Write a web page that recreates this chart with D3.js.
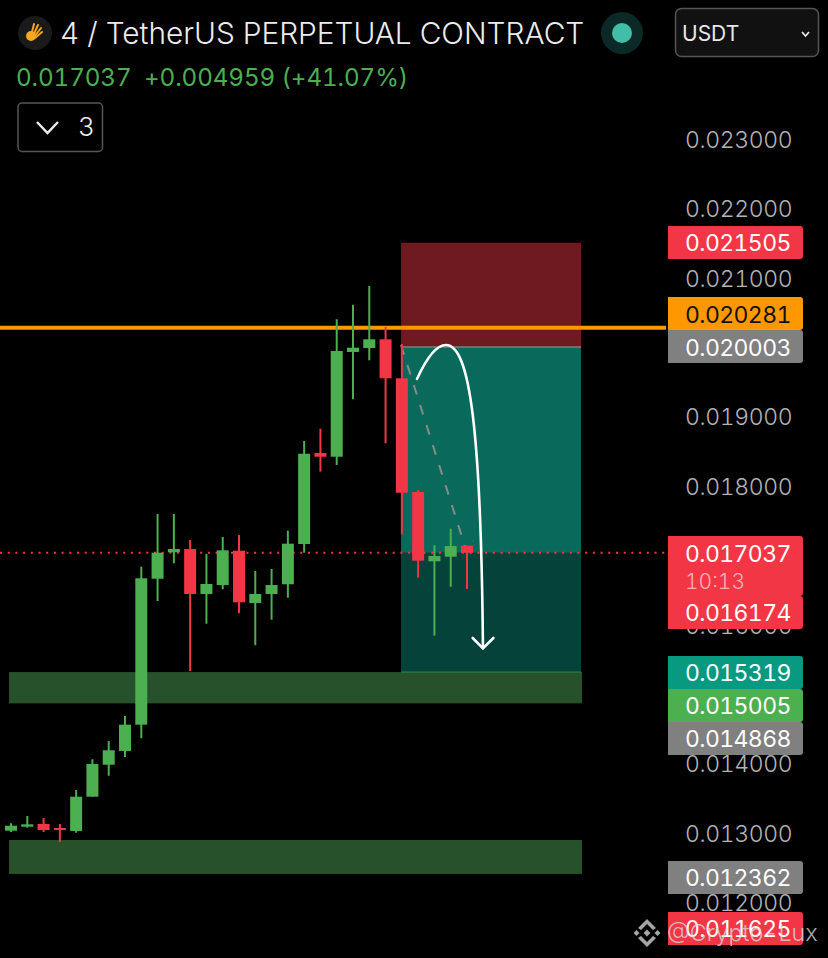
<!DOCTYPE html>
<html><head><meta charset="utf-8">
<style>html,body{margin:0;padding:0;background:#000}svg{display:block}text{font-family:Inter,Roboto,"Noto Sans",sans-serif;font-variant-numeric:tabular-nums;font-feature-settings:"tnum" 1}</style>
<script src="https://cdn.jsdelivr.net/npm/d3@7"></script></head><body><svg id="c" width="828" height="958"></svg>
<script>
const titleText="4 / TetherUS PERPETUAL CONTRACT";
const lastText="0.017037", changeText="+0.004959 (+41.07%)";
const axisTicks=[0.023,0.022,0.021,0.019,0.018,0.016,0.014,0.013,0.012];
const opens =[13.033,13.091,13.130,13.072,13.029,13.523,13.984,14.182,14.561,16.664,17.045,17.092,16.444,16.573,17.068,16.314,16.444,16.584,17.164,18.476,18.422,19.931,19.988,20.114,19.552,17.914,16.915,16.981,17.140];
const highs =[13.140,13.245,13.216,13.130,13.620,14.062,14.326,14.686,16.837,17.597,17.597,17.222,17.020,17.265,17.294,16.775,16.804,17.356,18.648,18.826,20.402,20.612,20.882,20.291,20.046,17.942,17.146,17.385,17.140];
const lows  =[13.014,13.076,13.014,12.870,13.004,13.523,13.826,14.095,14.365,16.343,16.886,15.334,16.016,16.512,16.166,15.705,16.073,16.390,17.039,18.206,18.303,19.249,19.811,18.615,17.304,16.679,15.843,16.549,16.516];
const closes=[13.105,13.125,13.043,13.043,13.523,13.994,14.192,14.561,16.670,17.039,17.092,16.444,16.588,17.073,16.324,16.444,16.573,17.169,18.465,18.422,19.945,19.993,20.114,19.552,17.903,16.924,16.991,17.135,17.037];
const zoneTops=[15.319,12.899], zoneBottoms=[14.868,12.410], zoneStart=-0.12, zoneEnd=35.06;
const toolStart=23.95, toolEnd=35.0, stopPrice=21.505, entryPrice=20.003, lastPrice=17.037, targetPrice=15.319;
const resistance=20.281;
const badgeValues=[21.505,20.281,20.003,17.037,16.174,15.319,15.005,14.868,12.362,11.625];
const badgeColors=["#f23645","#ff9800","#808080","#f23645","#f23645","#089981","#4caf50","#808080","#808080","#f23645"];
const arrowIdx  =[24.93,25.6,26.22,26.71,28.18,28.86,28.98];
const arrowPrice=[19.542,19.888,20.032,20.032,20.032,18.807,15.661];
const headIdx=[28.35,28.98,29.62], headPrice=[15.810,15.661,15.810];
const dashIdx=[23.95,28.0,28.37], dashPrice=[20.032,17.037,17.207];

const W=828,H=958,GREEN="#4caf50",RED="#f23645";
const svg=d3.select("#c");
const x=d3.scaleLinear().domain([0,28]).range([11,467]);
const y=d3.scaleLinear().domain([23,13]).range([139,833]);

svg.append("rect").attr("width",W).attr("height",H).attr("fill","#000");

// zones
const g=svg.append("g");
zoneTops.forEach((t,i)=>g.append("rect").attr("x",x(zoneStart)).attr("width",x(zoneEnd)-x(zoneStart))
  .attr("y",y(t)).attr("height",y(zoneBottoms[i])-y(t)).attr("fill","#27512a"));
// position tool
const tool=(a,b,c)=>g.append("rect").attr("x",x(toolStart)).attr("width",x(toolEnd)-x(toolStart)).attr("y",y(a)).attr("height",y(b)-y(a)).attr("fill",c);
tool(stopPrice,entryPrice,"#6e1a20");
tool(entryPrice,lastPrice,"#09695a");
tool(lastPrice,targetPrice,"#04423a");
g.append("line").attr("x1",x(toolStart)).attr("x2",x(toolEnd)).attr("y1",y(entryPrice)).attr("y2",y(entryPrice)).attr("stroke","#808080").attr("stroke-width",1.5);
g.append("line").attr("x1",x(toolStart)).attr("x2",x(toolEnd)).attr("y1",y(targetPrice)).attr("y2",y(targetPrice)).attr("stroke","#2f8f4a").attr("stroke-width",1);

// resistance & last price lines
svg.append("line").attr("x1",0).attr("x2",666).attr("y1",y(resistance)).attr("y2",y(resistance)).attr("stroke","#ff9800").attr("stroke-width",4);
svg.append("line").attr("x1",0).attr("x2",666).attr("y1",y(lastPrice)).attr("y2",y(lastPrice)).attr("stroke",RED).attr("stroke-width",2).attr("stroke-dasharray","2 5.7");

// projected dashed path
svg.append("path").attr("d",d3.line().x(i=>x(dashIdx[i])).y(i=>y(dashPrice[i]))(d3.range(dashIdx.length)))
  .attr("fill","none").attr("stroke","#8a8a8a").attr("stroke-width",2).attr("stroke-dasharray","10 11");

// candles
const idx=d3.range(opens.length);
const col=i=>closes[i]>=opens[i]?GREEN:RED;
const cg=svg.append("g");
cg.selectAll(".w").data(idx).join("line").attr("x1",x).attr("x2",x).attr("y1",i=>y(highs[i])).attr("y2",i=>y(lows[i])).attr("stroke",col).attr("stroke-width",2);
cg.selectAll(".b").data(idx).join("rect").attr("x",i=>x(i)-6).attr("width",12)
  .attr("y",i=>y(Math.max(opens[i],closes[i]))).attr("height",i=>Math.max(2,Math.abs(y(opens[i])-y(closes[i])))).attr("fill",col);

// arrow
const p=i=>[x(arrowIdx[i]),y(arrowPrice[i])];
svg.append("path").attr("d",`M${p(0)}C${p(1)} ${p(2)} ${p(3)}C${p(4)} ${p(5)} ${p(6)}`).attr("fill","none").attr("stroke","#fff").attr("stroke-width",2.6).attr("stroke-linecap","round");
svg.append("path").attr("d",d3.line().x(i=>x(headIdx[i])).y(i=>y(headPrice[i]))([0,1,2])).attr("fill","none").attr("stroke","#fff").attr("stroke-width",2.6).attr("stroke-linecap","round").attr("stroke-linejoin","round");

// axis labels
const FS=23;
svg.append("g").selectAll("text").data(axisTicks).join("text").attr("x",685).attr("y",d=>y(d*1000)).attr("dy","0.38em")
  .attr("font-size",FS).attr("font-weight",300).attr("fill","#b4b4b4").attr("letter-spacing",-0.4).text(d=>d.toFixed(6));

// price badges with collision handling around the entry badge
const BH=33, anchor=badgeValues.indexOf(entryPrice);
const cy=badgeValues.map(v=>y(v));
for(let i=anchor-1;i>=0;i--) if(cy[i]>cy[i+1]-BH) cy[i]=cy[i+1]-BH;
for(let i=anchor+1;i<cy.length;i++) if(cy[i]<cy[i-1]+BH) cy[i]=cy[i-1]+BH;
const lastI=badgeValues.indexOf(lastPrice);
badgeValues.forEach((v,i)=>{
  const c=cy[i], top=Math.round(c-BH/2), h=i===lastI?Math.round(cy[i+1]-BH/2)-top:Math.ceil(BH);
  svg.append("path").attr("d",`M668,${top}H800a3,3 0 0 1 3,3V${top+h-3}a3,3 0 0 1 -3,3H668Z`).attr("fill",badgeColors[i]);
  svg.append("text").attr("x",685).attr("y",c).attr("dy","0.38em").attr("font-size",FS).attr("font-weight",400).attr("letter-spacing",-0.6)
    .attr("fill",badgeColors[i]==="#ff9800"?"#111":"#fff").text((v/1000).toFixed(6));
  if(i===lastI) svg.append("text").attr("x",685).attr("y",c+28).attr("dy","0.38em").attr("font-size",21).attr("font-weight",300).attr("fill","#fff").attr("fill-opacity",0.62).text("10:13");
});

// header
svg.append("circle").attr("cx",35).attr("cy",33).attr("r",17).attr("fill","#1a1a1a");
const hand=svg.append("g").attr("stroke","#f5a623").attr("stroke-width",2).attr("stroke-linecap","round");
[[31,36,34,24],[33,36,38,25],[34,37,41,28],[35,38,42,32]].forEach(a=>hand.append("line").attr("x1",a[0]).attr("y1",a[1]).attr("x2",a[2]).attr("y2",a[3]));
svg.append("circle").attr("cx",31).attr("cy",36).attr("r",5).attr("fill","#f5a623");
svg.append("text").attr("x",60).attr("y",44).attr("font-size",29.8).attr("font-weight",300).attr("fill","#ececec").text(titleText);
svg.append("circle").attr("cx",622).attr("cy",33).attr("r",21).attr("fill","#0b2a27");
svg.append("circle").attr("cx",622).attr("cy",33).attr("r",10).attr("fill","#42bda8");
svg.append("rect").attr("x",675.5).attr("y",8.5).attr("width",143).attr("height",48).attr("rx",6).attr("fill","#111").attr("stroke","#555").attr("stroke-width",1.5);
svg.append("text").attr("x",682).attr("y",33).attr("dy","0.36em").attr("font-size",21).attr("fill","#e8e8e8").text("USDT");
svg.append("path").attr("d","M802,32l3.5,4l3.5,-4").attr("fill","none").attr("stroke","#e8e8e8").attr("stroke-width",1.8);
svg.append("text").attr("x",16).attr("y",77).attr("dy","0.36em").attr("font-size",24.2).attr("font-weight",400).attr("letter-spacing",-0.1).attr("fill",GREEN).text(lastText);
svg.append("text").attr("x",144).attr("y",77).attr("dy","0.36em").attr("font-size",24.2).attr("font-weight",400).attr("letter-spacing",-0.1).attr("fill",GREEN).text(changeText);
svg.append("rect").attr("x",18).attr("y",103).attr("width",84.5).attr("height",48.5).attr("rx",4).attr("fill","#000").attr("stroke","#555").attr("stroke-width",1.5);
svg.append("path").attr("d","M37,122l10.5,11l10.5,-11").attr("fill","none").attr("stroke","#eee").attr("stroke-width",2.4);
svg.append("text").attr("x",78).attr("y",127).attr("dy","0.36em").attr("font-size",26).attr("font-weight",300).attr("fill","#eee").text("3");

// watermark
const wm=svg.append("g").attr("fill","#d0d0d0").attr("fill-opacity",0.8);
const cx0=647,cy0=933;
const dia=(dx,dy,r)=>wm.append("path").attr("d",`M${cx0+dx},${cy0+dy-r}l${r},${r}l${-r},${r}l${-r},${-r}Z`);
dia(0,0,3.5);dia(-10.5,0,3);dia(10.5,0,3);
[[-1],[1]].forEach(([s])=>wm.append("path").attr("d",`M${cx0-9},${cy0+s*5}L${cx0},${cy0+s*14}L${cx0+9},${cy0+s*5}L${cx0+6},${cy0+s*3}L${cx0},${cy0+s*9}L${cx0-6},${cy0+s*3}Z`));
svg.append("text").attr("x",667).attr("y",933).attr("dy","0.36em").attr("font-size",23.4).attr("font-weight",300).attr("fill","#d8d8d8").attr("fill-opacity",0.8).text("@Crypto-Lux");
</script></body></html>
